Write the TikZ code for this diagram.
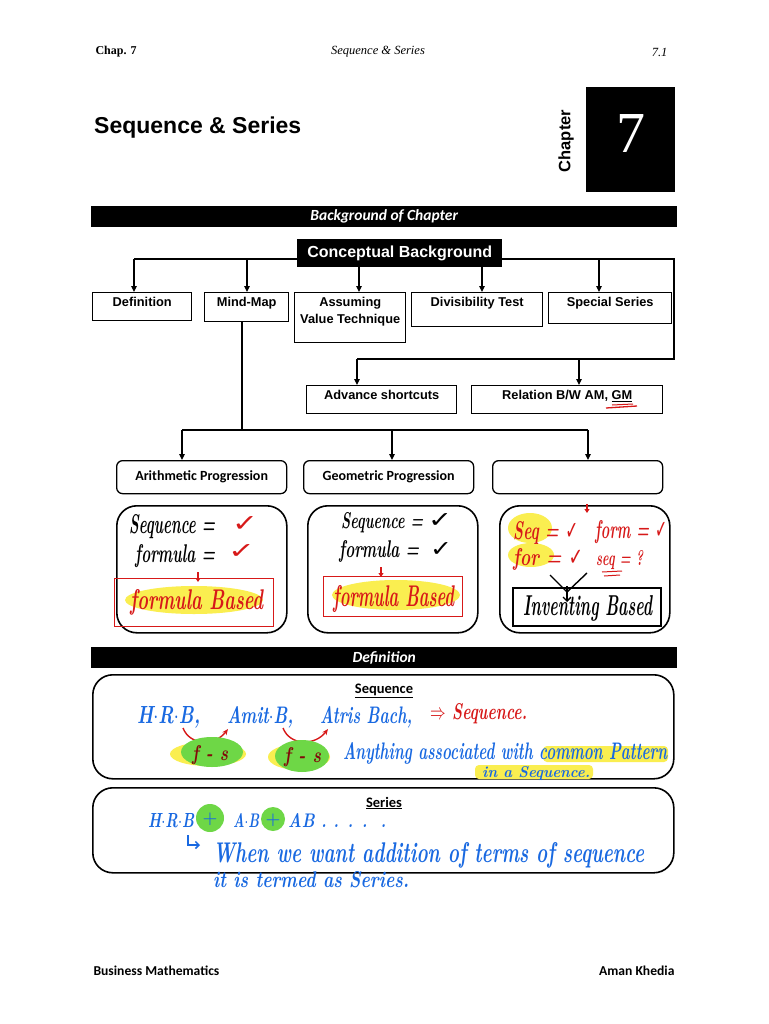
\documentclass[tikz,border=0pt]{standalone}
\usepackage{fontspec}
\usepackage{graphicx}
\usetikzlibrary{arrows.meta}
\newfontfamily\hdrf{Liberation Serif}
\newfontfamily\arf{Liberation Sans}
\newfontfamily\calf{Carlito}
\newfontfamily\symf{DejaVu Sans}
\definecolor{hblue}{RGB}{25,105,225}
\definecolor{hred}{RGB}{215,25,25}
\definecolor{hyel}{RGB}{250,238,80}
\definecolor{hgreen}{RGB}{110,215,70}
\definecolor{dred}{RGB}{130,10,10}
\newcommand\topbx[3]{\parbox[t][#2pt][t]{#1pt}{\centering\rule{0pt}{14pt}#3}}
\newcommand\hwr[3]{\resizebox{#1pt}{#2pt}{\bfseries\itshape #3}}
\newcommand\ckm{{\symf ✓}}
\newcommand\ckb[2]{\resizebox{#1pt}{#2pt}{\ckm}}
\begin{document}
\begin{tikzpicture}[x=1pt,y=-1pt,
  bx/.style={draw, line width=1.4pt, inner sep=0pt, anchor=north west,
    font=\arf\bfseries\fontsize{12.8}{17}\selectfont},
  bar/.style={fill=black, anchor=north west, inner sep=0pt, minimum width=586, minimum height=21,
    text=white, font=\calf\bfseries\itshape\fontsize{15.5}{16}\selectfont},
  ln/.style={line width=1.1pt},
  arr/.style={line width=1.1pt, -{Triangle[length=6pt,width=5.5pt]}},
  rbx/.style={draw, line width=1.3pt, rounded corners=6pt, anchor=north west, inner sep=0pt,
    minimum width=170, minimum height=33, font=\calf\bfseries\fontsize{14}{16}\selectfont},
  bigbx/.style={draw, line width=1.6pt, rounded corners=20pt, anchor=north west, inner sep=0pt},
  hw/.style={inner sep=0pt, anchor=base west},
  lbl/.style={font=\calf\bfseries\fontsize{14.5}{16}\selectfont},
  redmark/.style={hred, line width=1.6pt, -{Triangle[length=4pt,width=5pt]}},
  hl/.style={fill=hyel}
]
\fill[white] (0,0) rectangle (768,1024);
\useasboundingbox (0,0) rectangle (768,1024);

% header
\node[anchor=west, font=\hdrf\bfseries\fontsize{12}{14}\selectfont] (chap) at (92,52) {Chap. 7};
\node[font=\hdrf\itshape\fontsize{12.5}{14}\selectfont] (hd) at (378,52) {Sequence \& Series};
\node[anchor=east, font=\hdrf\itshape\fontsize{12.5}{14}\selectfont] (pg) at (671,52) {7.1};

% title
\node[anchor=west, inner sep=0pt, font=\arf\bfseries\fontsize{23}{26}\selectfont] (title) at (94,128) {Sequence \& Series};
\node[rotate=90, font=\arf\bfseries\fontsize{16.5}{18}\selectfont] (chw) at (566,141) {Chapter};
\node[fill=black, anchor=north west, minimum width=89, minimum height=105, inner sep=0pt] (chbox) at (586,87) {};
\node[text=white, font=\hdrf\fontsize{58}{60}\selectfont] (seven) at (631,134) {7};

% bars
\node[bar] (bgbar) at (91,206) {Background of Chapter};
\node[bar] (defbar) at (91,647) {Definition};

% conceptual background
\node[fill=black, text=white, anchor=north west, minimum width=205, minimum height=28, inner sep=0pt,
  font=\arf\bfseries\fontsize{16}{18}\selectfont] (cb) at (297,239) {Conceptual Background};

% first row
\node[bx] (def) at (92,292) {\topbx{99}{28}{Definition}};
\node[bx] (mm) at (204,292) {\topbx{84}{29}{Mind-Map}};
\node[bx] (ass) at (294,292) {\topbx{111}{50}{Assuming\\Value Technique}};
\node[bx] (div) at (411,292) {\topbx{131}{34}{Divisibility Test}};
\node[bx] (sps) at (548,292) {\topbx{123}{31}{Special Series}};
\node[bx] (adv) at (306,385) {\topbx{150}{28}{Advance shortcuts}};
\node[bx] (rel) at (471,385) {\topbx{191}{28}{Relation B/W AM, \underline{GM}}};
\draw[hred, line width=1.3pt] (606,408) -- (637,406);
\draw[hred, line width=1pt] (612,405) -- (633,404);

% connectors top
\coordinate (busL) at (134,259);
\coordinate (busR) at (674,259);
\coordinate (xmm) at (247,259);
\coordinate (xass) at (359,259);
\coordinate (xdiv) at (482,259);
\coordinate (xsps) at (599,259);
\coordinate (busD) at (674,359);
\coordinate (advJ) at (357,359);
\coordinate (relJ) at (579,359);
\draw[ln] (cb.west |- busL) -- (busL);
\draw[arr] (busL) -- (def.north -| busL);
\draw[arr] (xmm) -- (mm.north -| xmm);
\draw[arr] (cb.south -| xass) -- (ass.north -| xass);
\draw[arr] (cb.south -| xdiv) -- (div.north -| xdiv);
\draw[arr] (xsps) -- (sps.north -| xsps);
\draw[ln] (cb.east |- busR) -- (busR) -- (busD) -- (advJ);
\draw[arr] (advJ) -- (adv.north -| advJ);
\draw[arr] (relJ) -- (rel.north -| relJ);

% progressions
\node[rbx] (ap) at (116,460) {Arithmetic Progression};
\node[rbx] (gp) at (303,460) {Geometric Progression};
\node[rbx] (hp) at (492,460) {};
\coordinate (mmx) at (242,430);
\coordinate (apJ) at (182,430);
\coordinate (gpJ) at (392,430);
\coordinate (hpJ) at (588,430);
\draw[ln] (mm.south -| mmx) -- (mmx);
\draw[ln] (apJ) -- (hpJ);
\draw[arr] (apJ) -- (ap.north -| apJ);
\draw[arr] (gpJ) -- (gp.north -| gpJ);
\draw[arr] (hpJ) -- (hp.north -| hpJ);

\node[bigbx, minimum width=170, minimum height=127] (apb) at (116,505) {};
\node[bigbx, minimum width=170, minimum height=127] (gpb) at (307,505) {};
\node[bigbx, minimum width=170, minimum height=127] (hpb) at (499,505) {};

% AP content
\fill[hl] (194,600) ellipse [x radius=69, y radius=14];
\draw[hred, line width=1pt] (114,578) rectangle (273,626);
\node[hw] (ap1) at (129,533) {\hwr{86}{19}{Sequence =}};
\node[hw, text=hred] (ap1c) at (232,531) {\ckb{26}{15}};
\node[hw] (ap2) at (135,562) {\hwr{80}{18}{formula =}};
\node[hw, text=hred] (ap2c) at (228,558) {\ckb{27}{14}};
\draw[redmark] (198,572) -- (198,582);
\node[hw, text=hred] (apfb) at (130,609) {\hwr{133}{20}{formula Based}};

% GP content
\fill[hl] (396,595) ellipse [x radius=64, y radius=15];
\draw[hred, line width=1pt] (323,576) rectangle (462,616);
\node[hw] (gp1) at (341,528) {\hwr{82}{16}{Sequence =}};
\node[hw] (gp1c) at (428,527) {\ckb{24}{14}};
\node[hw] (gp2) at (339,557) {\hwr{80}{17}{formula =}};
\node[hw] (gp2c) at (430,556) {\ckb{22}{14}};
\draw[redmark] (381,567) -- (381,577);
\node[hw, text=hred] (gpfb) at (333,606) {\hwr{121}{21}{formula Based}};

% third content
\fill[hl] (530,528) ellipse [x radius=22, y radius=15];
\fill[hl] (531,555) ellipse [x radius=23, y radius=12];
\draw[redmark] (587,504) -- (587,513);
\node[hw, text=hred] (h1) at (513,539) {\hwr{65}{18}{Seq = \ckm}};
\node[hw, text=hred] (h2) at (595,538) {\hwr{72}{18}{form = \ckm}};
\node[hw, text=hred] (h3) at (513,565) {\hwr{70}{17}{for = \ckm}};
\node[hw, text=hred] (h4) at (596,565) {\hwr{47}{15}{seq = ?}};
\draw[hred, line width=1pt] (602,572) -- (622,571);
\draw[hred, line width=1pt] (604,576) -- (620,575);
\draw[line width=1.3pt] (513,588) rectangle (661,626);
\draw[line width=1.4pt] (550,575) -- (567,592) -- (587,573);
\draw[line width=1.3pt, -{Straight Barb[length=4pt]}] (567,586) -- (567,602);
\node[hw] (inv) at (523,615) {\hwr{129}{20}{Inventing Based}};

% Definition: sequence box
\node[bigbx, minimum width=581, minimum height=104] (seqb) at (92,674) {};
\node[lbl] (seql) at (384,691) {\underline{Sequence}};
\node[hw, text=hblue] (s1) at (137,723) {\hwr{63}{17}{H$\cdot$R$\cdot$B,}};
\node[hw, text=hblue] (s2) at (227,723) {\hwr{66}{17}{Amit$\cdot$B,}};
\node[hw, text=hblue] (s3) at (320,723) {\hwr{92}{17}{Atris Bach,}};
\node[hw, text=hred] (s4) at (430,719) {\hwr{97}{16}{$\Rightarrow$ Sequence.}};
\draw[hred, line width=1.4pt, -{Stealth[length=6pt,width=5pt]}] (183,728) .. controls (190,746) and (215,746) .. (228,729);
\draw[hred, line width=1.4pt, -{Stealth[length=6pt,width=5pt]}] (283,728) .. controls (290,746) and (315,746) .. (328,729);
\fill[hyel] (208,754) ellipse [x radius=38, y radius=12];
\fill[hgreen] (212,752) ellipse [x radius=31, y radius=15];
\fill[hyel] (299,757) ellipse [x radius=31, y radius=13];
\fill[hgreen] (302,756) ellipse [x radius=27, y radius=16];
\node[hw, text=dred] (fs1) at (192,760) {\hwr{36}{15}{f - s}};
\node[hw, text=dred] (fs2) at (284,762) {\hwr{37}{15}{f - s}};
\fill[hyel, rounded corners=4pt] (543,746) rectangle (668,762);
\fill[hyel, rounded corners=4pt] (475,765) rectangle (593,779);
\node[hw, text=hblue] (s5) at (343,759) {\hwr{324}{17}{Anything associated with common Pattern}};
\node[hw, text=hblue] (s6) at (482,777) {\hwr{108}{11}{in a Sequence.}};

% Definition: series box
\node[bigbx, minimum width=581, minimum height=85] (serb) at (92,787) {};
\node[lbl] (serl) at (384,803) {\underline{Series}};
\fill[hgreen] (210,818) ellipse [x radius=14, y radius=14];
\fill[hgreen] (273,819) ellipse [x radius=12, y radius=12];
\node[hw, text=hblue] (r1) at (148,827) {\hwr{46}{14}{H$\cdot$R$\cdot$B}};
\node[text=hblue, font=\bfseries\fontsize{17}{17}\selectfont] (p1) at (210,819) {+};
\node[hw, text=hblue] (r2) at (233,827) {\hwr{26}{14}{A$\cdot$B}};
\node[text=hblue, font=\bfseries\fontsize{17}{17}\selectfont] (p2) at (273,820) {+};
\node[hw, text=hblue] (r3) at (288,827) {\hwr{98}{14}{AB . . . .\ \ .}};
\draw[hblue, line width=1.5pt, -{Straight Barb[length=3.5pt]}] (188,835) -- (188,845) -- (200,845);
\node[hw, text=hblue] (r4) at (213,862) {\hwr{431}{20}{When we want addition of terms of sequence}};
\node[hw, text=hblue] (r5) at (213,887) {\hwr{196}{16}{it is termed as Series.}};

% footer
\node[anchor=west, font=\calf\bfseries\fontsize{13.6}{15}\selectfont] (bm) at (90,971) {Business Mathematics};
\node[anchor=east, font=\calf\bfseries\fontsize{13.6}{15}\selectfont] (ak) at (678,971) {Aman Khedia};
\end{tikzpicture}
\end{document}
